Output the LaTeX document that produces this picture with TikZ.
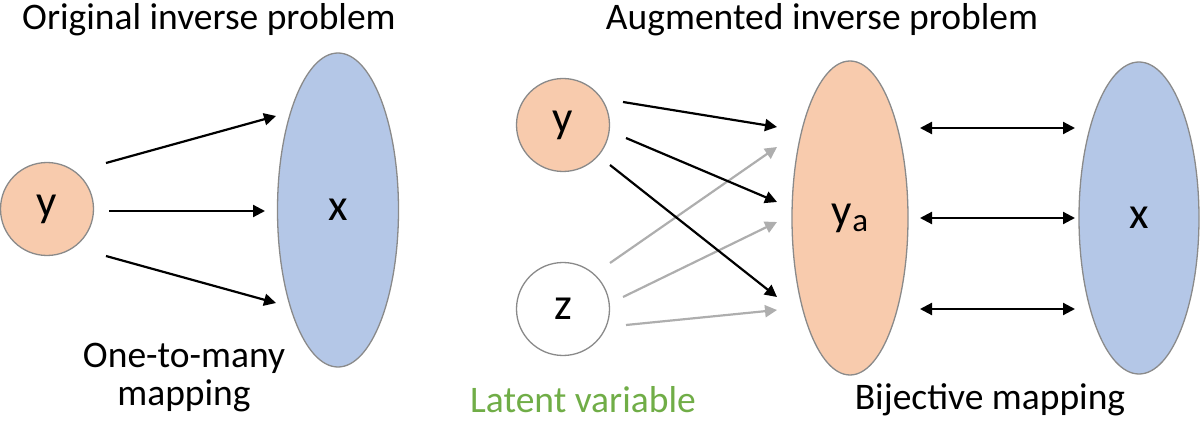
\documentclass[tikz,border=0pt]{standalone}
\usepackage{fontspec}
\setmainfont{Carlito}
\usetikzlibrary{shapes.geometric,arrows.meta}
\definecolor{orfill}{HTML}{F8CBAD}
\definecolor{blfill}{HTML}{B4C7E7}
\definecolor{outl}{HTML}{8A8A8A}
\definecolor{lgray}{HTML}{AEAEAE}
\definecolor{lgreen}{HTML}{70AD47}
\tikzset{
  circ/.style={circle,draw=outl,line width=1.3pt,inner sep=0pt,minimum size=93pt,font=\fontsize{45}{48}\selectfont},
  ell/.style={ellipse,draw=outl,line width=1.3pt,inner sep=0pt,font=\fontsize{45}{48}\selectfont},
  arr/.style={line width=2.2pt,-{Triangle[length=12pt,width=12pt]}},
  garr/.style={arr,lgray},
  barr/.style={line width=2.2pt,{Triangle[length=12pt,width=12pt]}-{Triangle[length=12pt,width=12pt]}},
  lbl/.style={font=\fontsize{37.5}{38}\selectfont,inner sep=0pt,align=center}
}
\begin{document}
\begin{tikzpicture}[x=1pt,y=-1pt]
\useasboundingbox (0,0) rectangle (1200,422);
% left part
\node[lbl,anchor=west] (t1) at (22,20) {Original inverse problem};
\node[circ,fill=orfill] (y1) at (47,209) {y};
\node[ell,fill=blfill,minimum width=121pt,minimum height=314pt] (x1) at (338,210) {x};
\node[lbl] (m1) at (184,378) {One-to-many\\mapping};
\coordinate (a1s) at (106,163); \coordinate (a1e) at (276,116);
\coordinate (a2s) at (109,211); \coordinate (a2e) at (265,211);
\coordinate (a3s) at (106,256); \coordinate (a3e) at (276,303);
\draw[arr] (a1s) -- (a1e);
\draw[arr] (a2s) -- (a2e);
\draw[arr] (a3s) -- (a3e);
% right part
\node[lbl] (t2) at (822,20) {Augmented inverse problem};
\node[circ,fill=orfill] (y2) at (563,125) {y};
\node[circ,fill=white] (z) at (563,309) {z};
\node[ell,fill=orfill,minimum width=116pt,minimum height=314pt] (ya) at (850,218) {y\raisebox{-6pt}{\fontsize{33}{35}\selectfont a}};
\node[ell,fill=blfill,minimum width=120pt,minimum height=312pt] (x2) at (1139,218) {x};
\node[lbl,text=lgreen] (lv) at (583,400) {Latent variable};
\node[lbl] (bm) at (990,400) {Bijective mapping};
\coordinate (b1s) at (623,102); \coordinate (b1e) at (777,127);
\coordinate (b2s) at (626,138); \coordinate (b2e) at (777,202);
\coordinate (b3s) at (610,165); \coordinate (b3e) at (777,297);
\coordinate (g1s) at (610,263); \coordinate (g1e) at (777,147);
\coordinate (g2s) at (623,297); \coordinate (g2e) at (777,222);
\coordinate (g3s) at (626,325); \coordinate (g3e) at (777,310);
\draw[garr] (g1s) -- (g1e);
\draw[garr] (g2s) -- (g2e);
\draw[garr] (g3s) -- (g3e);
\draw[arr] (b1s) -- (b1e);
\draw[arr] (b2s) -- (b2e);
\draw[arr] (b3s) -- (b3e);
\coordinate (c1s) at (920,128); \coordinate (c1e) at (1075,128);
\coordinate (c2s) at (920,218); \coordinate (c2e) at (1075,218);
\coordinate (c3s) at (920,309); \coordinate (c3e) at (1075,309);
\draw[barr] (c1s) -- (c1e);
\draw[barr] (c2s) -- (c2e);
\draw[barr] (c3s) -- (c3e);
\end{tikzpicture}
\end{document}
